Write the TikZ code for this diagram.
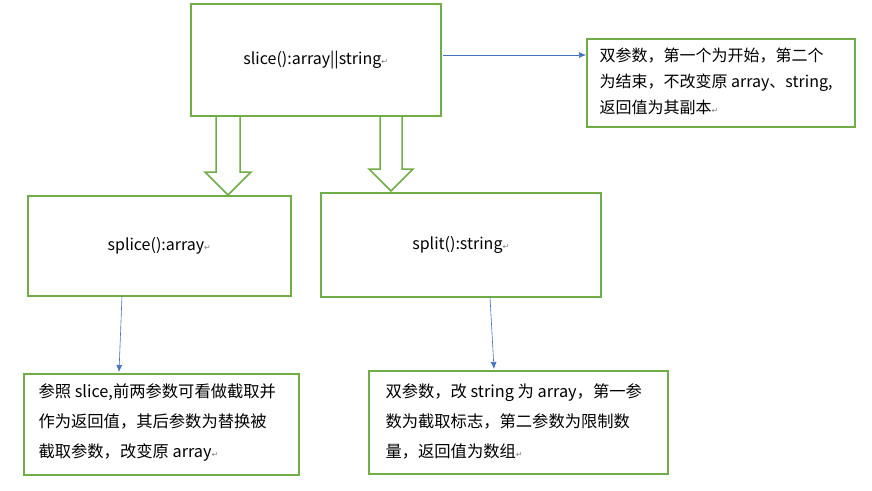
\documentclass[tikz,border=0pt]{standalone}
\usepackage{fontspec}
\setmainfont{Noto Sans CJK SC}
\newfontfamily\symf{DejaVu Sans}
\usetikzlibrary{arrows.meta}
\definecolor{gbox}{HTML}{70AD47}
\definecolor{bline}{HTML}{4472C4}
\newcommand{\rt}{{\symf\color{gray}\fontsize{8}{8}\selectfont ↵}}
\tikzset{
  box/.style={draw=gbox,line width=1.5pt,anchor=north west,inner sep=0pt},
  txt/.style={font=\fontsize{16}{26}\selectfont,align=left,text=black},
  txtw/.style={font=\fontsize{16.3}{30}\selectfont,align=left,text=black},
  thin/.style={draw=bline,-{Latex[length=7pt,width=6pt]},line width=0.6pt},
  fat/.style={draw=gbox,line width=1.5pt,fill=white}
}
\begin{document}
\begin{tikzpicture}[x=1pt,y=-1pt]
\useasboundingbox (0,0) rectangle (872,490);
\node[box,minimum width=250pt,minimum height=112pt] (top) at (190,3) {};
\node[txt] at (top.center) {slice():array||string\rt};
\node[box,minimum width=268pt,minimum height=88pt] (r) at (586,38) {};
\node[txt,anchor=north west] at (596,44) {双参数，第一个为开始，第二个\\为结束，不改变原 array、string,\\返回值为其副本\rt};
\node[box,minimum width=263pt,minimum height=100pt] (sp) at (27,195) {};
\node[txt] at (sp.center) {splice():array\rt};
\node[box,minimum width=280pt,minimum height=104pt] (st) at (320,192) {};
\node[txt] at (st.center) {split():string\rt};
\node[box,minimum width=275pt,minimum height=101pt] (bl) at (23,373) {};
\node[txtw,anchor=north west] at (35,380) {参照 slice,前两参数可看做截取并\\作为返回值，其后参数为替换被\\截取参数，改变原 array\rt};
\node[box,minimum width=299pt,minimum height=103pt] (br) at (368,370) {};
\node[txtw,anchor=north west] at (382,380) {双参数，改 string 为 array，第一参\\数为截取标志，第二参数为限制数\\量，返回值为数组\rt};
% block arrows
\draw[fat] (216,116) -- (240,116) -- (240,172) -- (251,172) -- (228,195) -- (205,172) -- (216,172) -- cycle;
\draw[fat] (380,116) -- (402,116) -- (402,169) -- (413,169) -- (391,191) -- (369,169) -- (380,169) -- cycle;
% thin arrows
\coordinate (a1) at (443,55);
\draw[thin] (a1) -- (r.west |- a1);
\coordinate (a2) at (122,296);
\coordinate (a3) at (119,372);
\draw[thin] (a2) -- (a3);
\coordinate (a4) at (490,297);
\coordinate (a5) at (494,369);
\draw[thin] (a4) -- (a5);
\end{tikzpicture}
\end{document}
